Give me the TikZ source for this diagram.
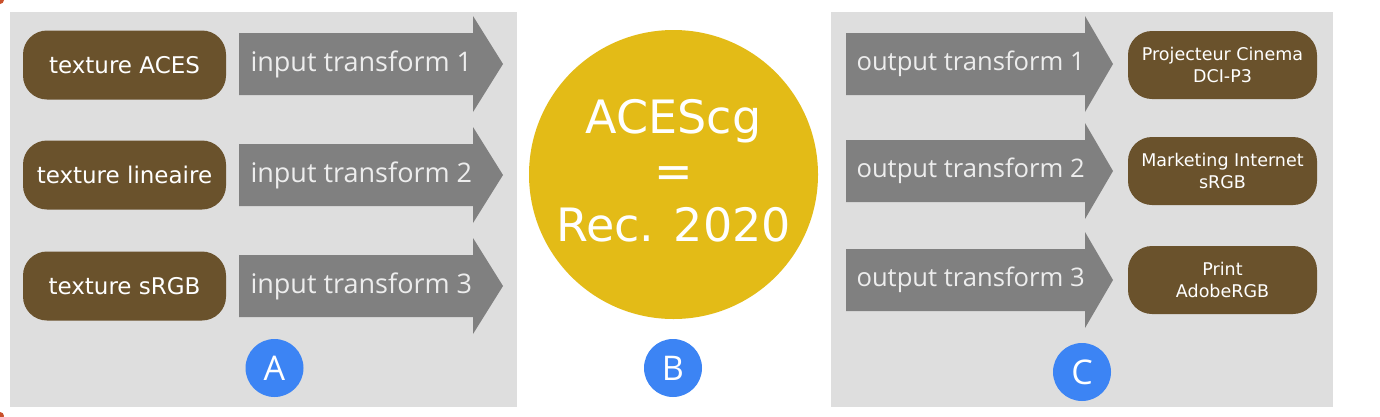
\documentclass[tikz,border=0pt]{standalone}
\usepackage{fontspec}
\setmainfont{DejaVu Sans}
\newfontfamily\arrowfont{Open Sans}
\usetikzlibrary{calc}
\definecolor{panelgray}{HTML}{DEDEDE}
\definecolor{boxbrown}{HTML}{6A522C}
\definecolor{arrowgray}{HTML}{808080}
\definecolor{acesyellow}{HTML}{E3BB17}
\definecolor{tagblue}{HTML}{3C84F4}
\definecolor{edgered}{HTML}{C9502B}
% fat arrow: (left x, centre y, right x of body, tip x)
\def\fatarrow(#1,#2,#3,#4){\fill[arrowgray] (#1,#2-31) -- (#3,#2-31) -- (#3,#2-48) -- (#4,#2) -- (#3,#2+48) -- (#3,#2+31) -- (#1,#2+31) -- cycle;}
\tikzset{
  srcbox/.style={fill=boxbrown, rounded corners=24pt, text=white, font=\fontsize{23}{27}\selectfont},
  dstbox/.style={fill=boxbrown, rounded corners=24pt, text=white, align=center, font=\fontsize{17.5}{22}\selectfont},
  arrowtext/.style={text=white!93!black, font=\arrowfont\fontsize{27}{30}\selectfont, anchor=west},
  tag/.style={circle, fill=tagblue, text=white, minimum size=58pt, inner sep=0pt, font=\arrowfont\fontsize{34}{36}\selectfont}
}

\begin{document}
\begin{tikzpicture}[x=1pt,y=-1pt]
		%%%%% START %%%%%
		\useasboundingbox (0,0) rectangle (1380,416);
		\fill[white] (0,0) rectangle (1380,416);
		\fill[edgered] (0,0) circle (4);
		\fill[edgered] (0,416) circle (4);
		
		%% panel A
		\fill[panelgray] (10,12) rectangle (517,407);
		\foreach \yc/\name/\txt in {65/srcA/texture ACES, 175/srcB/texture lineaire, 286/srcC/texture sRGB}{
			\node[srcbox, minimum width=203pt, minimum height=69pt] (\name) at (124.5,\yc) {\txt};
		}
		\foreach \yc/\num in {64/1, 175/2, 286/3}{
			\fatarrow(239,\yc,473,503)
			\node[arrowtext] (in\num) at (247,\yc) {input transform \num};
		}
		\node[tag] (tagA) at (274.5,368) {A};
		
		%% centre B
		\node[circle, fill=acesyellow, minimum size=289pt, inner sep=0pt] (aces) at (673.5,174.5) {};
		\node[text=white, align=center, font=\fontsize{46}{54}\selectfont] (acestxt) at (673.5,171) {ACEScg\\=\\Rec. 2020};
		\node[tag] (tagB) at (673,368) {B};
		
		%% panel C
		\fill[panelgray] (831,12) rectangle (1333,407);
		\foreach \yc/\num in {64/1, 171/2, 280/3}{
			\fatarrow(846,\yc,1085,1113)
			\node[arrowtext, font=\arrowfont\fontsize{25.6}{30}\selectfont] (out\num) at (853,\yc) {output transform \num};
		}
		\node[dstbox, minimum width=189pt, minimum height=68pt] (dstA) at (1222.5,65) {Projecteur Cinema\\DCI-P3};
		\node[dstbox, minimum width=189pt, minimum height=68pt] (dstB) at (1222.5,171) {Marketing Internet\\sRGB};
		\node[dstbox, minimum width=189pt, minimum height=68pt] (dstC) at (1222.5,280) {Print\\AdobeRGB};
		\node[tag] (tagC) at (1082,372) {C};
		%%%%% END %%%%%
	\end{tikzpicture}
\end{document}
